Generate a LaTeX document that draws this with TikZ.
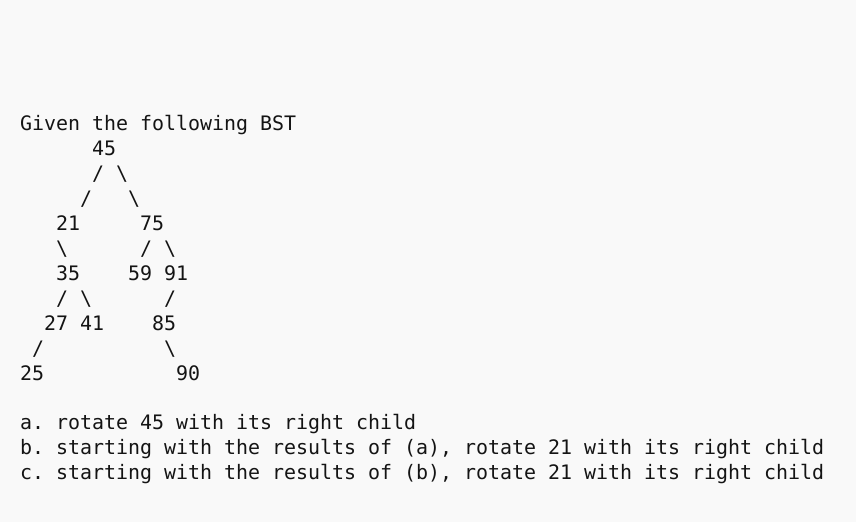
\documentclass[tikz,border=0pt]{standalone}
\usepackage{fontspec}
\setmonofont{DejaVu Sans Mono}
\usepackage{tikz}
\definecolor{pagebg}{RGB}{249,249,249}
\definecolor{ink}{RGB}{20,20,20}
\tikzstyle{txtline} = [anchor=base west, inner sep=0pt, text=ink, font=\ttfamily\fontsize{19.93}{25}\selectfont\frenchspacing]
\newcommand{\bs}{\textbackslash}

\begin{document}
\begin{tikzpicture}[x=1pt, y=-1pt]
  \fill [pagebg] (0,0) rectangle (856,522);
  \useasboundingbox (0,0) rectangle (856,522);
  \node (title) [txtline] at (20,130) {Given the following BST};
  \node (rowa) [txtline] at (20,155) {~~~~~~45};
  \node (rowb) [txtline] at (20,180) {~~~~~~/~\bs};
  \node (rowc) [txtline] at (20,205) {~~~~~/~~~\bs};
  \node (rowd) [txtline] at (20,230) {~~~21~~~~~75};
  \node (rowe) [txtline] at (20,255) {~~~\bs~~~~~~/~\bs};
  \node (rowf) [txtline] at (20,280) {~~~35~~~~59~91};
  \node (rowg) [txtline] at (20,305) {~~~/~\bs~~~~~~/};
  \node (rowh) [txtline] at (20,330) {~~27~41~~~~85};
  \node (rowi) [txtline] at (20,355) {~/~~~~~~~~~~\bs};
  \node (rowj) [txtline] at (20,380) {25~~~~~~~~~~~90};
  \node (taska) [txtline] at (20,429) {a. rotate 45 with its right child};
  \node (taskb) [txtline] at (20,454) {b. starting with the results of (a), rotate 21 with its right child};
  \node (taskc) [txtline] at (20,479) {c. starting with the results of (b), rotate 21 with its right child};
\end{tikzpicture}
\end{document}
